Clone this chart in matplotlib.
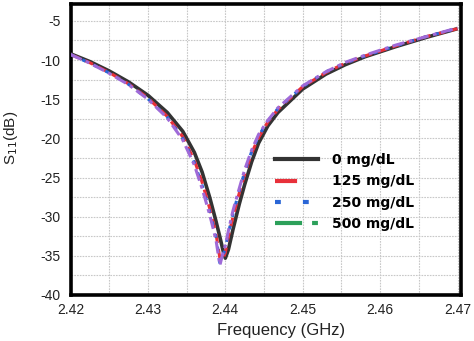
import matplotlib
matplotlib.use("Agg")
import matplotlib.pyplot as plt
from matplotlib.lines import Line2D
from matplotlib.ticker import MultipleLocator

# Frequency sweep (GHz) and reflection coefficient S11 (dB) per glucose level
freq = [2.4200, 2.4225, 2.4250, 2.4275, 2.4300, 2.4325, 2.4345, 2.4360,
        2.4370, 2.4380, 2.4388, 2.4393, 2.4397, 2.4400, 2.4404, 2.4410,
        2.4418, 2.4425, 2.4434, 2.4443, 2.4455, 2.4468, 2.4500, 2.4530,
        2.4555, 2.4580, 2.4620, 2.4660, 2.4700]

s11_0 = [-9.2, -10.2, -11.4, -12.8, -14.5, -16.7, -19.1, -21.8,
         -24.3, -27.6, -30.6, -32.6, -34.3, -35.3, -34.2, -31.6,
         -28.4, -25.9, -23.0, -20.6, -18.4, -16.7, -13.7, -11.8,
         -10.6, -9.6, -8.3, -7.1, -6.0]
s11_125 = [-9.3, -10.35, -11.6, -13.05, -14.85, -17.2, -19.8, -22.8,
           -25.6, -29.0, -32.2, -35.3, -35.4, -34.6, -32.5, -30.0,
           -27.0, -24.6, -21.9, -19.9, -17.9, -16.3, -13.4, -11.6,
           -10.4, -9.5, -8.2, -7.0, -6.0]
s11_250 = [-9.3, -10.4, -11.65, -13.1, -14.95, -17.3, -20.0, -23.1,
           -26.0, -29.4, -32.6, -35.9, -35.0, -34.0, -32.1, -29.6,
           -26.7, -24.3, -21.7, -19.7, -17.8, -16.2, -13.4, -11.5,
           -10.4, -9.5, -8.2, -7.0, -5.95]
s11_500 = [-9.3, -10.4, -11.7, -13.15, -15.0, -17.4, -20.2, -23.4,
           -26.4, -29.8, -33.0, -36.2, -34.6, -33.7, -31.8, -29.2,
           -26.4, -24.0, -21.5, -19.5, -17.7, -16.1, -13.3, -11.5,
           -10.3, -9.4, -8.1, -7.0, -5.9]

labels = ["0 mg/dL", "125 mg/dL", "250 mg/dL", "500 mg/dL"]

xticks = [2.42, 2.43, 2.44, 2.45, 2.46, 2.47]
yticks = [-40, -35, -30, -25, -20, -15, -10, -5]

plt.rcParams["font.family"] = ["Liberation Sans", "DejaVu Sans"]

fig = plt.figure(figsize=(4.74, 3.41), dpi=100)
W, H = 474, 341
ax = fig.add_axes([70.5 / W, (H - 295) / H, 390.5 / W, 291 / H])

black = "#333333"
red = "#e8303a"
blue = "#2a66d6"
purple = "#9f6ad8"
green = "#2ca05a"

ax.plot(freq, s11_0, color=black, lw=2.6, solid_capstyle="butt", zorder=3)
ax.plot(freq, s11_125, color=red, lw=2.2, dashes=(3, 2), zorder=4)
ax.plot(freq, s11_250, color=blue, lw=2.2, dashes=(1.2, 3), zorder=5)
ax.plot(freq, s11_500, color=purple, lw=2.2, dashes=(4, 1.5, 1.2, 1.5), zorder=6)

ax.set_xlim(2.42, 2.47045)
ax.set_ylim(-40, -2.85)
ax.set_xticks(xticks)
ax.set_xticklabels([f"{v:.2f}" for v in xticks])
ax.set_yticks(yticks)
ax.set_yticklabels([str(v) for v in yticks])
ax.xaxis.set_minor_locator(MultipleLocator(0.005))
ax.yaxis.set_minor_locator(MultipleLocator(2.5))
ax.grid(which="both", color="#c8c8c8", lw=0.8, linestyle=(0, (1.5, 1)))
ax.set_axisbelow(True)
ax.tick_params(which="both", length=0, labelsize=10, colors="#222222")
ax.tick_params(axis="y", pad=7)
ax.tick_params(axis="x", pad=6)

for sp in ax.spines.values():
    sp.set_linewidth(2.6)
    sp.set_color("black")

ax.set_xlabel("Frequency (GHz)", fontsize=12, color="#222222")
ax.xaxis.set_label_coords(0.54, -0.095)
ax.set_ylabel(r"S$_{11}$(dB)", fontsize=11, color="#222222", va="center")
ax.yaxis.set_label_coords(-0.152, 0.54)

handles = [
    Line2D([], [], color=black, lw=3),
    Line2D([], [], color=red, lw=3, dashes=(5.3, 20)),
    Line2D([], [], color=blue, lw=3, dashes=(1.4, 5.3)),
    Line2D([], [], color=green, lw=3, dashes=(6.5, 2.4, 1.4, 3)),
]
leg = ax.legend(handles, labels, loc="upper left", bbox_to_anchor=(0.507, 0.511),
                frameon=False, handlelength=3.1, handletextpad=1.0,
                labelspacing=0.52, borderpad=0,
                prop={"family": "DejaVu Sans", "weight": "bold", "size": 10})

fig.savefig("out.png", dpi=100)
